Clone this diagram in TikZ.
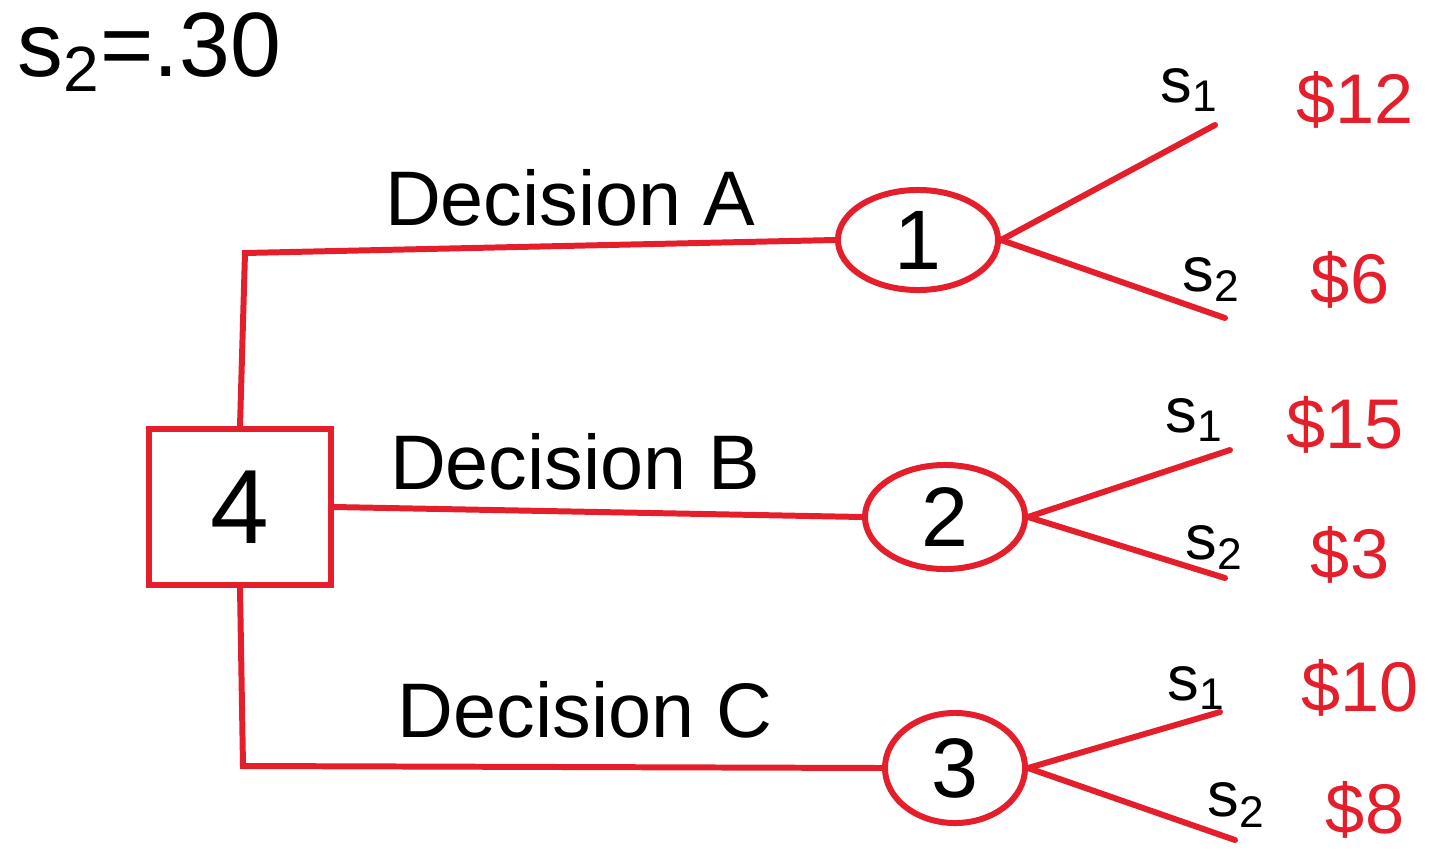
\documentclass[tikz,border=0pt]{standalone}
\usepackage{fontspec}
\usetikzlibrary{shapes.geometric}
\setmainfont{Liberation Sans}
\definecolor{pen}{RGB}{228,30,42}
\begin{document}
\begin{tikzpicture}[x=0.01cm,y=-0.01cm,
  wire/.style={pen,line width=1.7pt,line cap=round},
  chance/.style={draw=pen,line width=1.7pt,ellipse,inner sep=0pt},
  lab/.style={font=\fontsize{22}{26}\selectfont},
  st/.style={font=\fontsize{18}{22}\selectfont},
  pay/.style={pen,font=\fontsize{20}{24}\selectfont}]
\useasboundingbox (0,0) rectangle (1445,854);
\node[font=\fontsize{26}{30}\selectfont,anchor=west] (prob) at (5,52) {s\textsubscript{2}=.30};
\node[draw=pen,line width=1.7pt,minimum width=1.82cm,minimum height=1.55cm,font=\fontsize{30}{34}\selectfont] (d) at (240,507) {4};
\node[chance,minimum width=1.6cm,minimum height=1.0cm,font=\fontsize{24}{28}\selectfont] (c1) at (918,240) {1};
\node[chance,minimum width=1.6cm,minimum height=1.04cm,font=\fontsize{24}{28}\selectfont] (c2) at (945,517) {2};
\node[chance,minimum width=1.4cm,minimum height=1.1cm,font=\fontsize{24}{28}\selectfont] (c3) at (955,768) {3};
\coordinate (ta) at (245,253);
\coordinate (tc) at (243,766);
\draw[wire] (d.north) -- (ta) -- (c1.west);
\draw[wire] (d.east) -- (c2.west);
\draw[wire] (d.south) -- (tc) -- (c3.west);
\node[lab] (la) at (570,198) {Decision A};
\node[lab] (lb) at (575,462) {Decision B};
\node[lab] (lc) at (585,710) {Decision C};
\coordinate (e11) at (1215,125); \coordinate (e12) at (1225,318);
\coordinate (e21) at (1230,450); \coordinate (e22) at (1225,578);
\coordinate (e31) at (1220,712); \coordinate (e32) at (1235,840);
\draw[wire] (c1.east) -- (e11); \draw[wire] (c1.east) -- (e12);
\draw[wire] (c2.east) -- (e21); \draw[wire] (c2.east) -- (e22);
\draw[wire] (c3.east) -- (e31); \draw[wire] (c3.east) -- (e32);
\node[st] (s11) at (1190,90) {s\textsubscript{1}}; \node[pay] (p11) at (1355,100) {\$12};
\node[st] (s12) at (1212,280) {s\textsubscript{2}}; \node[pay] (p12) at (1350,280) {\$6};
\node[st] (s21) at (1195,420) {s\textsubscript{1}}; \node[pay] (p21) at (1345,425) {\$15};
\node[st] (s22) at (1215,548) {s\textsubscript{2}}; \node[pay] (p22) at (1350,555) {\$3};
\node[st] (s31) at (1197,688) {s\textsubscript{1}}; \node[pay] (p31) at (1360,688) {\$10};
\node[st] (s32) at (1237,805) {s\textsubscript{2}}; \node[pay] (p32) at (1365,810) {\$8};
\end{tikzpicture}
\end{document}
